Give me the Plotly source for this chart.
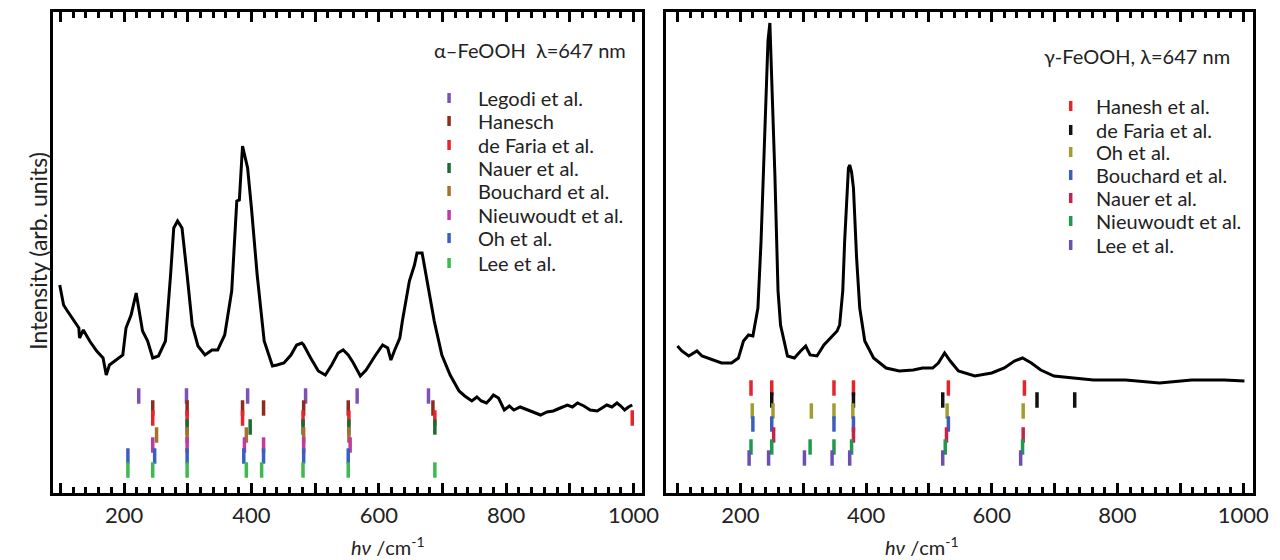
import plotly.graph_objects as go
from plotly.subplots import make_subplots

# alpha-FeOOH spectrum (wavenumber in cm-1, intensity in arb. units)
alpha_wavenumber = [99, 105, 110, 121, 129, 130, 136, 146, 157, 167, 172, 177, 188, 198,
                    203, 211, 219, 223, 229, 237, 245, 254, 265, 273, 278, 284, 291, 299,
                    307, 316, 327, 338, 347, 358, 369, 377, 381, 386, 394, 400, 409, 420,
                    433, 440, 451, 462, 471, 479, 482, 493, 505, 516, 526, 536, 544, 552,
                    560, 571, 580, 594, 606, 614, 619, 625, 633, 637, 648, 656, 660, 668,
                    673, 679, 687, 699, 712, 726, 735, 746, 754, 761, 769, 775, 780, 788,
                    797, 805, 812, 822, 834, 845, 854, 864, 874, 885, 896, 904, 912, 922,
                    932, 943, 950, 958, 966, 974, 980, 986, 992, 998]
alpha_intensity = [207, 187, 182, 172, 164, 154, 162, 151, 141, 134, 117, 127, 132, 137,
                   164, 177, 199, 184, 161, 151, 134, 136, 151, 217, 264, 271, 264, 217,
                   167, 146, 137, 142, 142, 157, 201, 291, 292, 346, 324, 284, 217, 151,
                   126, 127, 129, 137, 147, 149, 147, 134, 121, 117, 127, 139, 142, 137,
                   129, 116, 122, 136, 147, 144, 132, 142, 154, 171, 211, 227, 239, 239,
                   221, 201, 171, 137, 117, 101, 96, 91, 95, 91, 89, 93, 97, 94,
                   82, 86, 82, 85, 82, 79, 77, 80, 81, 84, 87, 85, 89, 86,
                   82, 81, 84, 87, 85, 89, 86, 82, 85, 87]

# gamma-FeOOH spectrum
gamma_wavenumber = [100, 107, 118, 131, 139, 155, 170, 186, 197, 205, 213, 220, 228, 233,
                    239, 244, 247, 249, 252, 255, 260, 264, 275, 286, 296, 304, 311, 322,
                    333, 343, 354, 358, 363, 366, 369, 372, 374, 377, 380, 385, 390, 398,
                    412, 432, 453, 475, 490, 506, 515, 525, 534, 547, 573, 600, 620, 636,
                    649, 663, 678, 699, 730, 762, 813, 867, 918, 970, 1002]
gamma_intensity = [146, 141, 136, 141, 136, 132, 129, 129, 134, 151, 157, 156, 184, 251,
                   351, 451, 469, 434, 384, 317, 201, 167, 136, 134, 141, 146, 137, 136,
                   147, 154, 161, 167, 201, 251, 284, 324, 327, 320, 304, 234, 184, 151,
                   134, 124, 121, 122, 124, 124, 129, 139, 131, 121, 116, 119, 124, 131,
                   134, 129, 122, 116, 114, 112, 112, 109, 112, 112, 111]

# literature band positions
alpha_ref_names = ["Legodi et al.", "Hanesch", "de Faria et al.", "Nauer et al.",
                   "Bouchard et al.", "Nieuwoudt et al.", "Oh et al.", "Lee et al."]
alpha_ref_bands = [
    [223, 298, 394, 485, 566, 678],
    [245, 299, 386, 419, 482, 552, 685],
    [245, 299, 386, 481, 553, 688, 998],
    [299, 398, 481, 553, 688],
    [251, 299, 392, 482, 553],
    [245, 299, 389, 419, 482, 555],
    [206, 248, 299, 388, 419, 482, 552],
    [206, 245, 299, 392, 416, 481, 552, 688],
]

gamma_ref_names = ["Hanesh et al.", "de Faria et al.", "Oh et al.", "Bouchard et al.",
                   "Nauer et al.", "Nieuwoudt et al.", "Lee et al."]
gamma_ref_bands = [
    [217, 250, 349, 380, 531, 652],
    [250, 380, 522, 672, 732],
    [219, 252, 313, 349, 379, 529, 650],
    [220, 250, 349, 380, 531],
    [253, 380, 528, 650],
    [217, 250, 311, 349, 377, 526, 649],
    [214, 245, 302, 346, 374, 522, 646],
]

alpha_colors = ["#7d52b3", "#8e2b1c", "#e8232b", "#1f6a33", "#a4712e", "#c03a9f", "#3b5fc0", "#3dba4c"]
gamma_colors = ["#e8232b", "#111111", "#a39d2f", "#3b5fc0", "#c91f4b", "#1f9a4b", "#6b50b3"]

# vertical level of each reference row (plot units)
alpha_rows = [96, 84, 74, 65, 57, 47, 36, 22]
gamma_rows = [104, 92, 81, 68, 57, 45, 34]

W, H = 1280, 560
FONT = "Lato"

fig = make_subplots(rows=1, cols=2)

fig.add_trace(go.Scatter(x=alpha_wavenumber, y=alpha_intensity, mode="lines",
                         line=dict(color="black", width=3), showlegend=False), row=1, col=1)
fig.add_trace(go.Scatter(x=gamma_wavenumber, y=gamma_intensity, mode="lines",
                         line=dict(color="black", width=3), showlegend=False), row=1, col=2)

for col, bands, colors, rows in [(1, alpha_ref_bands, alpha_colors, alpha_rows),
                                 (2, gamma_ref_bands, gamma_colors, gamma_rows)]:
    for i, b in enumerate(bands):
        fig.add_trace(go.Scatter(
            x=b, y=[rows[i]] * len(b), mode="markers",
            marker=dict(symbol="line-ns", size=11, line=dict(color=colors[i], width=3.5)),
            showlegend=False), row=1, col=col)


def px(x):
    return x / W


def py(y):
    return 1 - y / H


annotations = []
shapes = []

# in-panel legends
def legend(title, title_x, title_y, names, colors, key_x, text_x, ys):
    annotations.append(dict(text=title, x=px(title_x), y=py(title_y), xref="paper", yref="paper",
                            xanchor="left", yanchor="middle", showarrow=False,
                            font=dict(family=FONT, size=20, color="#222")))
    for name, c, y in zip(names, colors, ys):
        annotations.append(dict(text=name, x=px(text_x), y=py(y), xref="paper", yref="paper",
                                xanchor="left", yanchor="middle", showarrow=False,
                                font=dict(family=FONT, size=20, color="#222")))
        shapes.append(dict(type="line", xref="paper", yref="paper",
                           x0=px(key_x), x1=px(key_x), y0=py(y - 5), y1=py(y + 5),
                           line=dict(color=c, width=3.5)))


legend("α–FeOOH  λ=647 nm", 430, 42, alpha_ref_names, alpha_colors, 447, 474,
       [90, 113, 137, 160, 183, 207, 230, 255])
legend("γ-FeOOH, λ=647 nm", 1048, 48, gamma_ref_names, gamma_colors, 1077, 1101,
       [98, 122, 144, 167, 190, 213, 237])

annotations.append(dict(text="Intensity (arb. units)", x=px(14), y=py(243), xref="paper",
                        yref="paper", textangle=-90, showarrow=False,
                        font=dict(family=FONT, size=23, color="#222")))
for cx in [346, 966]:
    annotations.append(dict(text="<i>hν</i> /cm<sup>-1</sup>", x=px(cx), y=py(553),
                            xref="paper", yref="paper", showarrow=False, yanchor="bottom",
                            font=dict(family=FONT, size=20, color="#222")))

xcommon = dict(showline=True, linewidth=3, linecolor="black", mirror="allticks",
               ticks="inside", ticklen=10, tickwidth=2.5, tickcolor="black",
               tickmode="linear", tick0=0, dtick=100,
               labelalias={"100": "", "300": "", "500": "", "700": "", "900": ""},
               ticklabelstandoff=1,
               tickfont=dict(family=FONT, size=22, color="#222"),
               minor=dict(dtick=20, ticks="inside", ticklen=6, tickwidth=2.5, tickcolor="black"),
               showgrid=False, zeroline=False)
ycommon = dict(showline=True, linewidth=3, linecolor="black", mirror=True,
               ticks="", showticklabels=False, showgrid=False, zeroline=False,
               range=[-1, 480], domain=[py(485), py(4)])

fig.update_xaxes(xcommon)
fig.update_yaxes(ycommon)
fig.update_xaxes(range=[89, 1014], domain=[px(46), px(643)], row=1, col=1)
fig.update_xaxes(range=[82, 1016], domain=[px(667), px(1262)], row=1, col=2)

fig.update_layout(width=W, height=H, margin=dict(l=0, r=0, t=0, b=0),
                  plot_bgcolor="white", paper_bgcolor="white",
                  annotations=annotations, shapes=shapes)

fig.write_html("out.html")
